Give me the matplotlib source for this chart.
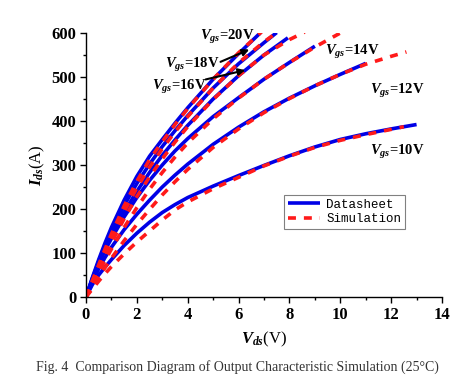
import matplotlib.pyplot as plt

plt.rcParams['font.family'] = 'Liberation Serif'
plt.rcParams['font.weight'] = 'bold'
plt.rcParams['mathtext.fontset'] = 'custom'
plt.rcParams['mathtext.rm'] = 'Liberation Serif:bold'
plt.rcParams['mathtext.it'] = 'Liberation Serif:italic:bold'
plt.rcParams['mathtext.bf'] = 'Liberation Serif:bold'

# datasheet curves (blue)
vds_10 = [0, 0.25, 0.5, 0.75, 1, 1.5, 2, 2.5, 3, 3.5, 4, 5, 6, 7, 8, 9, 10, 11, 12, 13]
ids_10 = [0, 28, 50, 68, 85, 117, 145, 170, 192, 210, 226, 252, 276, 299, 321, 341, 358, 371, 382, 392]
vds_12 = [0, 0.25, 0.5, 0.75, 1, 1.5, 2, 2.5, 3, 3.5, 4, 5, 6, 7, 8, 9, 10, 11]
ids_12 = [0, 34, 64, 90, 113, 153, 188, 220, 250, 277, 302, 347, 386, 421, 452, 480, 506, 531]
vds_14 = [0, 0.25, 0.5, 0.75, 1, 1.5, 2, 2.5, 3, 3.5, 4, 5, 6, 7, 8, 9]
ids_14 = [0, 40, 76, 106, 133, 182, 226, 265, 300, 332, 360, 410, 453, 495, 533, 570]
vds_16 = [0, 0.25, 0.5, 0.75, 1, 1.5, 2, 2.5, 3, 3.5, 4, 5, 6, 7, 7.94]
ids_16 = [0, 40, 77, 110, 140, 193, 240, 283, 322, 357, 390, 450, 503, 550, 589]
vds_18 = [0, 0.25, 0.5, 0.75, 1, 1.5, 2, 2.5, 3, 3.5, 4, 5, 6, 7, 7.5]
ids_18 = [0, 42, 81, 117, 150, 208, 258, 302, 342, 378, 412, 475, 530, 578, 601]
vds_20 = [0, 0.25, 0.5, 0.75, 1, 1.5, 2, 2.5, 3, 3.5, 4, 5, 6, 6.85]
ids_20 = [0, 44, 85, 123, 158, 220, 274, 320, 358, 395, 430, 495, 553, 600]

# simulation curves (red)
sim_vds_10 = [0, 0.25, 0.5, 0.75, 1, 1.5, 2, 2.5, 3, 3.5, 4, 5, 6, 7, 8, 9, 10, 11, 12, 12.5]
sim_ids_10 = [0, 18, 36, 53, 69, 98, 125, 150, 175, 198, 216, 246, 272, 298, 320, 340, 356, 369, 381, 387]
sim_vds_12 = [0, 0.25, 0.5, 0.75, 1, 1.5, 2, 2.5, 3, 3.5, 4, 5, 6, 7, 8, 9, 10, 11, 12, 12.6]
sim_ids_12 = [0, 22, 45, 67, 88, 128, 165, 199, 232, 262, 290, 340, 382, 419, 451, 480, 506, 529, 547, 557]
sim_vds_14 = [0, 0.25, 0.5, 0.75, 1, 1.5, 2, 2.5, 3, 3.5, 4, 5, 6, 7, 8, 9, 10, 10.2]
sim_ids_14 = [0, 28, 56, 83, 109, 158, 203, 245, 283, 318, 350, 405, 452, 495, 533, 568, 600, 606]
sim_vds_16 = [0, 0.25, 0.5, 0.75, 1, 1.5, 2, 2.5, 3, 3.5, 4, 5, 6, 7, 8, 8.6]
sim_ids_16 = [0, 32, 63, 94, 123, 178, 228, 273, 314, 352, 387, 449, 503, 550, 585, 602]
sim_vds_18 = [0, 0.25, 0.5, 0.75, 1, 1.5, 2, 2.5, 3, 3.5, 4, 5, 6, 7, 7.6]
sim_ids_18 = [0, 35, 69, 102, 134, 194, 248, 295, 337, 375, 410, 475, 532, 580, 605]
sim_vds_20 = [0, 0.25, 0.5, 0.75, 1, 1.5, 2, 2.5, 3, 3.5, 4, 5, 6, 6.95]
sim_ids_20 = [0, 37, 73, 109, 143, 207, 263, 312, 353, 392, 428, 495, 555, 605]

datasheet = [(vds_10, ids_10), (vds_12, ids_12), (vds_14, ids_14),
             (vds_16, ids_16), (vds_18, ids_18), (vds_20, ids_20)]
simulation = [(sim_vds_10, sim_ids_10), (sim_vds_12, sim_ids_12), (sim_vds_14, sim_ids_14),
              (sim_vds_16, sim_ids_16), (sim_vds_18, sim_ids_18), (sim_vds_20, sim_ids_20)]

fig = plt.figure(figsize=(4.74, 3.76), dpi=100)
ax = fig.add_axes([0.1814, 0.2101, 0.7511, 0.7021])

for i, (x, y) in enumerate(datasheet):
    ax.plot(x, y, color='#0000e6', lw=2.6, solid_capstyle='butt',
            label='Datasheet' if i == 0 else None)
for i, (x, y) in enumerate(simulation):
    ax.plot(x, y, color='#ff1a1a', lw=2.6, dashes=(2.2, 2.2),
            label='Simulation' if i == 0 else None)

ax.set_xlim(0, 14)
ax.set_ylim(0, 600)
ax.set_xticks(range(0, 15, 2))
ax.set_xticks(range(0, 15, 1), minor=True)
ax.set_yticks(range(0, 601, 100))
ax.set_yticks(range(0, 601, 50), minor=True)
ax.spines['top'].set_visible(False)
ax.spines['right'].set_visible(False)
for s in ['left', 'bottom']:
    ax.spines[s].set_linewidth(1.0)
ax.tick_params(which='major', direction='out', length=4, width=1, labelsize=12, pad=3)
ax.tick_params(which='minor', direction='out', length=2.5, width=1)
for lab in ax.get_xticklabels() + ax.get_yticklabels():
    lab.set_fontweight('bold')

ax.set_xlabel(r'$V_{ds}$(V)', fontsize=12, labelpad=5)
ax.set_ylabel(r'$I_{ds}$(A)', fontsize=12, labelpad=3)

lab_kw = dict(fontsize=10.5, color='black', va='baseline')
ax.text(4.48, 584, r'$V_{gs}$=20V', clip_on=False, **lab_kw)
ax.text(3.1, 520, r'$V_{gs}$=18V', **lab_kw)
ax.text(2.58, 470, r'$V_{gs}$=16V', **lab_kw)
ax.text(9.4, 550, r'$V_{gs}$=14V', **lab_kw)
ax.text(11.17, 461, r'$V_{gs}$=12V', **lab_kw)
ax.text(11.17, 323, r'$V_{gs}$=10V', **lab_kw)

arrow = dict(arrowstyle='-|>', color='black', lw=1.5, mutation_scale=10)
ax.annotate('', xy=(6.52, 565), xytext=(5.19, 532), arrowprops=arrow)
ax.annotate('', xy=(6.37, 517), xytext=(4.6, 493), arrowprops=arrow)

leg = ax.legend(loc='upper left', bbox_to_anchor=(0.556, 0.386), frameon=True,
                fancybox=False, edgecolor='#808080', framealpha=1,
                prop={'family': 'Liberation Mono', 'size': 9, 'weight': 'normal'},
                handlelength=2.6, handletextpad=0.5, borderpad=0.3,
                labelspacing=0.2, borderaxespad=0)
leg.get_frame().set_linewidth(0.8)

# caption of the source page along the lower edge
fig.text(0.5, 0.004, 'Fig. 4  Comparison Diagram of Output Characteristic Simulation (25\u00b0C)',
         ha='center', va='bottom', fontsize=10, fontweight='normal', color='#333333')

fig.savefig('out.png', dpi=100)
